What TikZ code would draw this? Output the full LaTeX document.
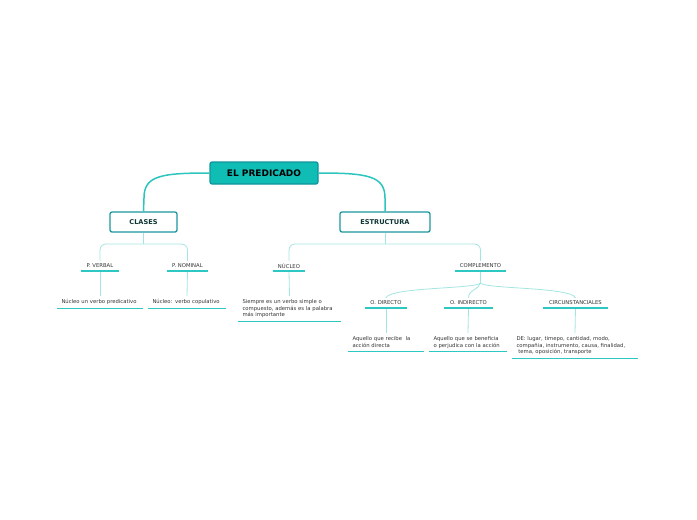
\documentclass[tikz,border=0pt]{standalone}
\usepackage{fontspec}
\setmainfont{DejaVu Sans}
\definecolor{mainfill}{HTML}{10BDB5}
\definecolor{mainbord}{HTML}{11959A}
\definecolor{subbord}{HTML}{1A979D}
\definecolor{thickc}{HTML}{2CC5BD}
\definecolor{thinc}{HTML}{A3E5E1}
\definecolor{ulc}{HTML}{2EC8C2}
\definecolor{darkt}{HTML}{0E3434}
\definecolor{txt}{HTML}{333333}
\tikzset{
  mainbox/.style={draw=mainbord, fill=mainfill, line width=1.2pt, rounded corners=2pt,
    minimum width=108pt, minimum height=22pt, inner sep=0pt,
    font=\fontsize{9}{10}\selectfont\bfseries, text=black},
  subbox/.style={draw=subbord, fill=white, line width=1.3pt, rounded corners=2pt,
    minimum height=20pt, inner sep=0pt,
    font=\fontsize{6.6}{8}\selectfont\bfseries, text=darkt},
  lbl/.style={inner sep=0pt, minimum height=10pt, font=\fontsize{5.3}{6}\selectfont, text=txt},
  desc/.style={inner xsep=4.5pt, inner ysep=0pt, anchor=north, align=left,
    font=\fontsize{5.3}{6.8}\selectfont, text=txt},
  thickline/.style={draw=thickc, line width=1.5pt},
  thinline/.style={draw=thinc, line width=0.8pt},
  uline/.style={draw=ulc, line width=1.5pt}
}
\begin{document}
\begin{tikzpicture}[x=1pt,y=-1pt]
\useasboundingbox (0,0) rectangle (697,520);
% main and first level
\node[mainbox] (main) at (264,173) {EL PREDICADO};
\node[subbox, minimum width=67pt] (clases) at (143.5,222) {CLASES};
\node[subbox, minimum width=90pt] (estr) at (385,222) {ESTRUCTURA};
\draw[thickline] (main.west) .. controls (160,173) and (144,176) .. (144,198) -- (clases.north);
\draw[thickline] (main.east) .. controls (368,173) and (385,176) .. (385,198) -- (estr.north);
% second level labels
\node[lbl, minimum width=37pt] (pv) at (100,266) {P. VERBAL};
\node[lbl, minimum width=41pt] (pn) at (187.5,266) {P. NOMINAL};
\node[lbl, minimum width=32pt] (nuc) at (289,266) {NÚCLEO};
\node[lbl, minimum width=51pt] (comp) at (480.5,266) {COMPLEMENTO};
% branches
\draw[thinline] (clases.south) -- (clases.south |- 0,244);
\draw[thinline, rounded corners=6pt] (pv.north) -- (pv.north |- 0,244) -- (pn.north |- 0,244) -- (pn.north);
\draw[thinline] (estr.south) -- (estr.south |- 0,244);
\draw[thinline, rounded corners=6pt] (nuc.north) -- (nuc.north |- 0,244) -- (comp.north |- 0,244) -- (comp.north);
% descriptions of second level
\node[desc, text width=77pt, minimum height=12pt] (dpv) at (100,296) {Núcleo un verbo predicativo};
\node[desc, text width=69pt, minimum height=12pt] (dpn) at (187,296) {Núcleo: verbo copulativo};
\node[desc, text width=94pt, minimum height=25pt] (dnuc) at (289.5,296) {Siempre es un verbo simple o\\compuesto, además es la palabra\\más importante};
\draw[thinline] (pv.south) -- (dpv.north);
\draw[thinline] (pn.south) -- (dpn.north);
\draw[thinline] (nuc.south) -- (dnuc.north);
% complemento children
\coordinate (cj) at (480.5,283);
\draw[thinline] (comp.south) -- (cj);
\node[lbl, minimum width=42pt] (od) at (386,303) {O. DIRECTO};
\node[lbl, minimum width=49pt] (oi) at (468.5,303) {O. INDIRECTO};
\node[lbl, minimum width=65pt] (circ) at (575.5,303) {CIRCUNSTANCIALES};
\draw[thinline] (cj) .. controls (476,289) and (390,287) .. (od.north);
\draw[thinline] (cj) .. controls (479,290) and (468.5,289) .. (oi.north);
\draw[thinline] (cj) .. controls (485,289) and (571,287) .. (circ.north);
\node[desc, text width=67pt, minimum height=18pt] (dod) at (386,333) {Aquello que recibe\ \ la\\acción directa};
\node[desc, text width=69pt, minimum height=18pt] (doi) at (468,333) {Aquello que se beneficia\\o perjudica con la acción};
\node[desc, text width=117pt, minimum height=25pt] (dcirc) at (575,333) {DE: lugar, timepo, cantidad, modo,\\compañia, instrumento, causa, finalidad,\\\ tema, oposición, transporte};
\draw[thinline] (od.south) -- (dod.north);
\draw[thinline] (oi.south) -- (doi.north);
\draw[thinline] (circ.south) -- (dcirc.north);
% underlines
\foreach \n in {pv,pn,nuc,comp,od,oi,circ,dpv,dpn,dnuc,dod,doi,dcirc}
  \draw[uline] (\n.south west) -- (\n.south east);
\end{tikzpicture}
\end{document}
